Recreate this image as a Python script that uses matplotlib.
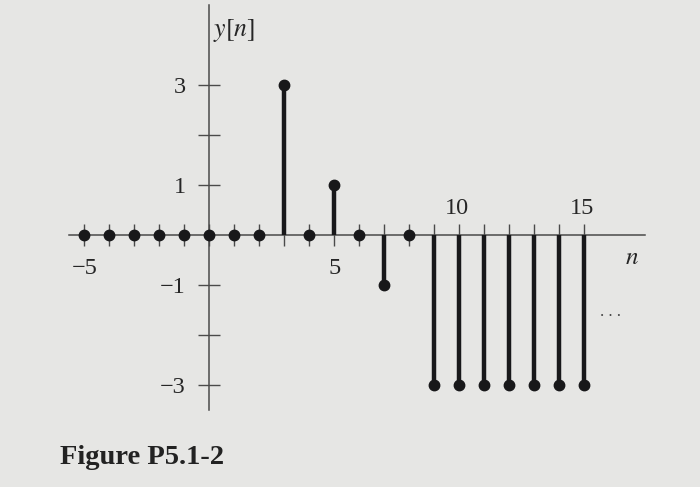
import numpy as np
import matplotlib.pyplot as plt

plt.rcParams['font.family'] = ['Liberation Serif', 'DejaVu Serif']
plt.rcParams['mathtext.fontset'] = 'stix'

# signal samples y[n]
n = np.arange(-5, 16)
y = [0, 0, 0, 0, 0, 0, 0, 0, 3, 0, 1, 0, -1, 0, -3, -3, -3, -3, -3, -3, -3]

x_ticks = np.arange(-5, 16)
y_ticks = [-3, -2, -1, 1, 2, 3]
y_labels = {3: '3', 1: '1', -1: '\u22121', -3: '\u22123'}
x_labels_below = {-5: '\u22125', 5: '5'}
x_labels_above = {10: '10', 15: '15'}

bg = '#e6e6e4'
ink = '#18181a'
txt = '#262626'
axis_col = '#4a4a4a'

fig = plt.figure(figsize=(7, 4.87), dpi=100, facecolor=bg)
ax = fig.add_axes([0, 0, 1, 1], facecolor=bg)
ax.set_xlim(-8.36, 19.64)
ax.set_ylim(-5.04, 4.7)

# axes through the origin
for s in ['top', 'right']:
    ax.spines[s].set_visible(False)
ax.spines['bottom'].set_position(('data', 0))
ax.spines['left'].set_position(('data', 0))
ax.spines['bottom'].set_bounds(-5.6, 17.45)
ax.spines['left'].set_bounds(-3.5, 4.6)
for s in ['bottom', 'left']:
    ax.spines[s].set_color(axis_col)
    ax.spines[s].set_linewidth(1.1)
ax.set_xticks(x_ticks)
ax.set_yticks(y_ticks)
ax.tick_params(direction='inout', length=16, width=1.0, color=axis_col,
               labelbottom=False, labelleft=False)

# stems
nz = [k for k, v in zip(n, y) if v != 0]
vz = [v for v in y if v != 0]
ax.vlines(nz, 0, vz, color=ink, linewidth=3.2, zorder=3)
ax.plot(n, y, 'o', color=ink, markersize=7.5, zorder=4)

# labels
for v, t in y_labels.items():
    ax.text(-0.92, v - 0.05, t, ha='right', va='center', fontsize=17.5, color=txt)
for k, t in x_labels_below.items():
    ax.text(k + 0.04, -0.66, t, ha='center', va='center', fontsize=17.5, color=txt)
for k, t in x_labels_above.items():
    ax.text(k - 0.08, 0.54, t, ha='center', va='center', fontsize=17.5, color=txt)
ax.text(16.92, -0.46, '$n$', ha='center', va='center', fontsize=18, color=txt)
ax.text(0.16, 4.1, '$y[n]$', ha='left', va='center', fontsize=18.5, color=txt)
ax.text(16.04, -1.55, '. . .', ha='center', va='center', fontsize=12, color='#444444')
ax.text(-5.96, -4.46, 'Figure P5.1-2', ha='left', va='center', fontsize=20.5,
        fontweight='bold', color='#222222')

fig.savefig('out.png', dpi=100, facecolor=bg)
